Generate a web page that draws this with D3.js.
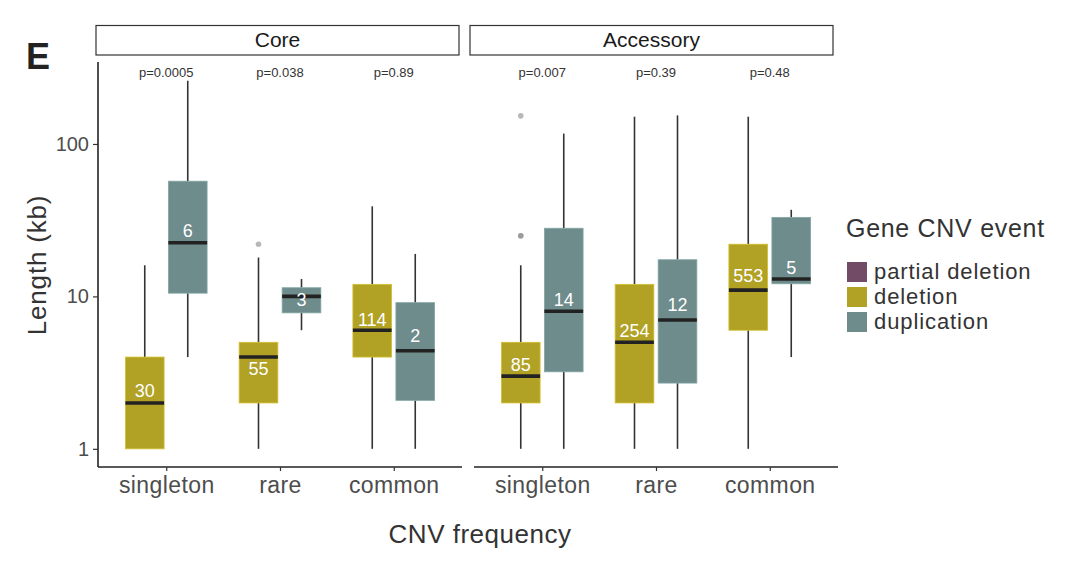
<!DOCTYPE html>
<html>
<head>
<meta charset="utf-8">
<script src="https://cdn.jsdelivr.net/npm/d3@7"></script>
<style>
  body { margin: 0; background: #fff; }
  text { font-family: "Liberation Sans", Arial, Helvetica, sans-serif; }
</style>
</head>
<body>
<svg id="chart" width="1080" height="564"></svg>
<script>
// data
var panels = ["Core", "Accessory"];
var frequencies = ["singleton", "rare", "common"];
var events = ["partial deletion", "deletion", "duplication"];
var pValues = [
    ["p=0.0005", "p=0.038", "p=0.89"],
    ["p=0.007", "p=0.39", "p=0.48"]
];

// one entry per box, same order in every array
var boxPanel  = ["Core","Core","Core","Core","Core","Core",
                 "Accessory","Accessory","Accessory","Accessory","Accessory","Accessory"];
var boxFreq   = ["singleton","singleton","rare","rare","common","common",
                 "singleton","singleton","rare","rare","common","common"];
var boxEvent  = ["deletion","duplication","deletion","duplication","deletion","duplication",
                 "deletion","duplication","deletion","duplication","deletion","duplication"];
var boxLower  = [1, 4, 1, 6, 1, 1,     1, 1, 1, 1, 1, 4];
var boxQ1     = [1, 10.5, 2, 7.8, 4, 2.08,   2, 3.2, 2, 2.7, 6, 12.1];
var boxMedian = [2, 22.5, 4, 10, 6, 4.4,    3, 8, 5, 7, 11, 13];
var boxQ3     = [4, 57, 5, 11.4, 12, 9.1,   5, 28, 12, 17.4, 22, 33];
var boxUpper  = [16, 260, 18, 13, 39, 19,   16, 117, 151, 154, 151, 37];
var boxCount  = [30, 6, 55, 3, 114, 2,      85, 14, 254, 12, 553, 5];
var boxMean   = [2.4, 27, 3.35, 9.5, 7.1, 5.5,   3.55, 9.6, 6, 8.8, 13.7, 15.4];
var boxOutliers = [[], [], [22], [], [], [],   [25, 25, 153], [], [], [], [], []];

var palette = {
    "partial deletion": "#724b66",
    "deletion": "#b1a125",
    "duplication": "#6e8c8b"
};

var svg = d3.select("#chart");

var panelX = { "Core": 98, "Accessory": 474 };
var panelW = 364;
var plotTop = 62, plotBottom = 467;

var y = d3.scaleLog().domain([0.76, 345]).range([plotBottom, plotTop]);

// ggplot style discrete expansion: 0.6 units each side
var xFreq = d3.scalePoint().domain(frequencies)
    .range([0.6 * panelW / 3.2, panelW - 0.6 * panelW / 3.2]);

var xEvent = d3.scaleBand().domain(["deletion", "duplication"]).range([-43, 43])
    .paddingInner(0.1).paddingOuter(0.05);

// "E" label
svg.append("text").attr("x", 26).attr("y", 69)
    .style("font-size", "36px").style("font-weight", "bold").attr("fill", "#222")
    .text("E");

panels.forEach(function (p, pi) {
    var g = svg.append("g").attr("transform", `translate(${panelX[p]},0)`);
    var sx = pi === 0 ? -2 : -4;

    // strip
    g.append("rect").attr("x", sx).attr("y", 25.5)
        .attr("width", panelW - 1).attr("height", 29.5)
        .attr("fill", "#fff").attr("stroke", "#333").attr("stroke-width", 1.2);
    g.append("text").attr("x", sx + (panelW - 1) / 2).attr("y", 47)
        .attr("text-anchor", "middle").style("font-size", "21px").attr("fill", "#1a1a1a")
        .text(p);

    // x axis
    var xa = g.append("g").attr("transform", `translate(0,${plotBottom})`)
        .call(d3.axisBottom(xFreq).tickSize(4).tickPadding(6));
    xa.select(".domain").attr("stroke", "#222").attr("stroke-width", 1.6)
        .attr("d", `M0,0H${panelW}`);
    xa.selectAll(".tick line").attr("stroke", "#333").attr("stroke-width", 1.2);
    xa.selectAll(".tick text").style("font-size", "23px").attr("fill", "#4d4d4d")
        .style("letter-spacing", "0.4px")
        .style("font-family", '"Liberation Sans", Arial, sans-serif');

    if (pi === 0) {
        var ya = g.append("g")
            .call(d3.axisLeft(y).tickValues([1, 10, 100]).tickFormat(d3.format("d")).tickSize(5).tickPadding(4));
        ya.select(".domain").attr("stroke", "#222").attr("stroke-width", 1.6)
            .attr("d", `M0,${plotTop}V${plotBottom}`);
        ya.selectAll(".tick line").attr("stroke", "#333").attr("stroke-width", 1.2);
        ya.selectAll(".tick text").style("font-size", "20px").attr("fill", "#4d4d4d")
            .style("font-family", '"Liberation Sans", Arial, sans-serif');
    }

    // p values
    g.selectAll(".pval").data(pValues[pi]).enter().append("text")
        .attr("x", (d, i) => xFreq(frequencies[i]))
        .attr("y", 77)
        .attr("text-anchor", "middle").style("font-size", "13px").attr("fill", "#333")
        .text(d => d);

    // boxes for this panel
    var idx = d3.range(boxPanel.length).filter(i => boxPanel[i] === p);
    var bw = xEvent.bandwidth();
    var cx = i => xFreq(boxFreq[i]) + xEvent(boxEvent[i]) + bw / 2;

    var b = g.selectAll(".box").data(idx).enter().append("g");

    b.append("line").attr("x1", cx).attr("x2", cx)
        .attr("y1", i => y(boxQ3[i])).attr("y2", i => y(boxUpper[i]))
        .attr("stroke", "#333").attr("stroke-width", 1.6);
    b.append("line").attr("x1", cx).attr("x2", cx)
        .attr("y1", i => y(boxQ1[i])).attr("y2", i => y(boxLower[i]))
        .attr("stroke", "#333").attr("stroke-width", 1.6);
    b.append("rect")
        .attr("x", i => cx(i) - bw / 2).attr("width", bw)
        .attr("y", i => y(boxQ3[i])).attr("height", i => y(boxQ1[i]) - y(boxQ3[i]))
        .attr("fill", i => palette[boxEvent[i]])
        .attr("stroke", i => d3.color(palette[boxEvent[i]]).brighter(0.5))
        .attr("stroke-width", 0.8);
    b.append("line")
        .attr("x1", i => cx(i) - bw / 2).attr("x2", i => cx(i) + bw / 2)
        .attr("y1", i => y(boxMedian[i])).attr("y2", i => y(boxMedian[i]))
        .attr("stroke", "#222").attr("stroke-width", 3.6);
    b.selectAll("circle").data(i => boxOutliers[i].map(v => [i, v])).enter().append("circle")
        .attr("cx", d => cx(d[0])).attr("cy", d => y(d[1])).attr("r", 2.8)
        .attr("fill", "#888").attr("fill-opacity", 0.6);
    b.append("text")
        .attr("x", cx).attr("y", i => y(boxMean[i]) + 6.5)
        .attr("text-anchor", "middle").style("font-size", "18px").attr("fill", "#fff")
        .text(i => boxCount[i]);
});

// axis titles
svg.append("text").attr("x", 480).attr("y", 543).attr("text-anchor", "middle")
    .style("font-size", "26px").style("letter-spacing", "0.5px").attr("fill", "#333")
    .text("CNV frequency");
svg.append("text").attr("transform", "translate(46,265) rotate(-90)").attr("text-anchor", "middle")
    .style("font-size", "26px").style("letter-spacing", "0.8px").attr("fill", "#333")
    .text("Length (kb)");

// legend
var lg = svg.append("g").attr("transform", "translate(846,0)");
lg.append("text").attr("x", 0).attr("y", 237).style("font-size", "25px")
    .style("letter-spacing", "0.7px").attr("fill", "#333")
    .text("Gene CNV event");
var li = lg.selectAll(".key").data(events).enter().append("g")
    .attr("transform", (d, i) => `translate(1,${262 + i * 25})`);
li.append("rect").attr("width", 20).attr("height", 20).attr("fill", d => palette[d]);
li.append("text").attr("x", 27).attr("y", 17).style("font-size", "22px")
    .style("letter-spacing", "0.9px").attr("fill", "#333")
    .text(d => d);
</script>
</body>
</html>
